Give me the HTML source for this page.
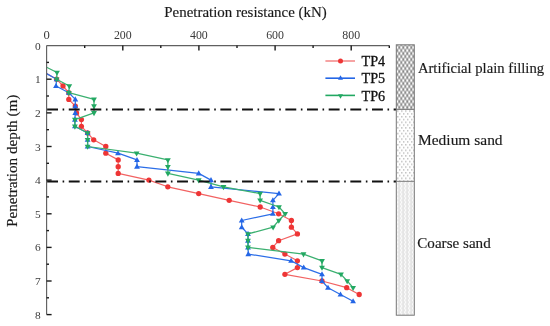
<!DOCTYPE html>
<html><head><meta charset="utf-8"><title>Penetration resistance</title>
<style>html,body{margin:0;padding:0;background:#fff;}svg{display:block;}</style></head>
<body><svg width="550" height="326" viewBox="0 0 550 326">
<defs>
<pattern id="hatch" patternUnits="userSpaceOnUse" width="4" height="6" x="397.3" y="44.5">
<rect width="4" height="6" fill="#fff"/>
<path d="M0,0 L4,6 M4,0 L0,6" stroke="#555" stroke-width="0.8"/>
</pattern>
<pattern id="dots1" patternUnits="userSpaceOnUse" width="4" height="5.6" x="396.3" y="109.4">
<rect width="4" height="5.6" fill="#fff"/>
<rect x="1" y="1.2" width="1.1" height="1.1" fill="#888"/>
<rect x="3" y="4" width="1.1" height="1.1" fill="#888"/>
</pattern>
<pattern id="dots2" patternUnits="userSpaceOnUse" width="4" height="4" x="397.2" y="181.3">
<rect width="4" height="4" fill="#fff"/>
<rect x="1.5" y="0.5" width="1" height="1" fill="#9a9a9a"/>
<rect x="3.5" y="0.5" width="0.5" height="1" fill="#aaa"/>
<rect x="1.5" y="2.5" width="1" height="1" fill="#9a9a9a"/>
<rect x="0" y="2.5" width="0.6" height="1" fill="#bbb"/>
</pattern>
</defs>
<rect width="550" height="326" fill="#fff"/>
<polyline points="46.6,73.6 56.6,79.2 63.0,86.0 68.8,92.7 68.8,99.4 75.3,106.1 76.5,112.9 81.4,119.6 81.4,126.3 87.6,133.0 93.7,139.8 105.8,146.5 105.8,153.2 118.2,159.9 118.2,166.7 118.2,173.4 148.9,180.1 167.8,186.8 198.7,193.6 229.2,200.3 260.2,207.0 278.6,213.8 291.4,220.5 291.4,227.2 297.4,233.9 278.6,240.7 272.8,247.4 284.9,254.1 297.4,260.8 297.4,267.6 284.9,274.3 322.0,281.0 346.7,287.7 359.2,294.5" fill="none" stroke="#f26262" stroke-width="1.2" stroke-linejoin="round"/>
<circle cx="56.6" cy="79.2" r="2.65" fill="#ee3535"/>
<circle cx="63.0" cy="86.0" r="2.65" fill="#ee3535"/>
<circle cx="68.8" cy="92.7" r="2.65" fill="#ee3535"/>
<circle cx="68.8" cy="99.4" r="2.65" fill="#ee3535"/>
<circle cx="75.3" cy="106.1" r="2.65" fill="#ee3535"/>
<circle cx="76.5" cy="112.9" r="2.65" fill="#ee3535"/>
<circle cx="81.4" cy="119.6" r="2.65" fill="#ee3535"/>
<circle cx="81.4" cy="126.3" r="2.65" fill="#ee3535"/>
<circle cx="87.6" cy="133.0" r="2.65" fill="#ee3535"/>
<circle cx="93.7" cy="139.8" r="2.65" fill="#ee3535"/>
<circle cx="105.8" cy="146.5" r="2.65" fill="#ee3535"/>
<circle cx="105.8" cy="153.2" r="2.65" fill="#ee3535"/>
<circle cx="118.2" cy="159.9" r="2.65" fill="#ee3535"/>
<circle cx="118.2" cy="166.7" r="2.65" fill="#ee3535"/>
<circle cx="118.2" cy="173.4" r="2.65" fill="#ee3535"/>
<circle cx="148.9" cy="180.1" r="2.65" fill="#ee3535"/>
<circle cx="167.8" cy="186.8" r="2.65" fill="#ee3535"/>
<circle cx="198.7" cy="193.6" r="2.65" fill="#ee3535"/>
<circle cx="229.2" cy="200.3" r="2.65" fill="#ee3535"/>
<circle cx="260.2" cy="207.0" r="2.65" fill="#ee3535"/>
<circle cx="278.6" cy="213.8" r="2.65" fill="#ee3535"/>
<circle cx="291.4" cy="220.5" r="2.65" fill="#ee3535"/>
<circle cx="291.4" cy="227.2" r="2.65" fill="#ee3535"/>
<circle cx="297.4" cy="233.9" r="2.65" fill="#ee3535"/>
<circle cx="278.6" cy="240.7" r="2.65" fill="#ee3535"/>
<circle cx="272.8" cy="247.4" r="2.65" fill="#ee3535"/>
<circle cx="284.9" cy="254.1" r="2.65" fill="#ee3535"/>
<circle cx="297.4" cy="260.8" r="2.65" fill="#ee3535"/>
<circle cx="297.4" cy="267.6" r="2.65" fill="#ee3535"/>
<circle cx="284.9" cy="274.3" r="2.65" fill="#ee3535"/>
<circle cx="322.0" cy="281.0" r="2.65" fill="#ee3535"/>
<circle cx="346.7" cy="287.7" r="2.65" fill="#ee3535"/>
<circle cx="359.2" cy="294.5" r="2.65" fill="#ee3535"/>
<polyline points="46.6,73.6 56.6,79.2 56.0,86.0 68.8,92.7 75.3,99.4 75.3,106.1 75.3,112.9 74.9,119.6 74.9,126.3 87.6,133.0 87.6,139.8 87.6,146.5 118.0,153.2 137.0,159.9 137.0,166.7 198.7,173.4 211.0,180.1 211.0,186.8 279.0,193.6 272.9,200.3 272.9,207.0 272.9,213.8 241.7,220.5 241.7,227.2 248.0,233.9 248.0,240.7 248.0,247.4 248.3,254.1 291.1,260.8 303.7,267.6 322.0,274.3 322.0,281.0 328.0,287.7 340.5,294.5 353.1,301.2" fill="none" stroke="#2c6ee8" stroke-width="1.25" stroke-linejoin="round"/>
<polygon points="53.70,81.27 59.50,81.27 56.60,76.17" fill="#2466e6"/>
<polygon points="53.10,88.00 58.90,88.00 56.00,82.90" fill="#2466e6"/>
<polygon points="65.90,94.72 71.70,94.72 68.80,89.62" fill="#2466e6"/>
<polygon points="72.40,101.45 78.20,101.45 75.30,96.35" fill="#2466e6"/>
<polygon points="72.40,108.17 78.20,108.17 75.30,103.07" fill="#2466e6"/>
<polygon points="72.40,114.90 78.20,114.90 75.30,109.80" fill="#2466e6"/>
<polygon points="72.00,121.63 77.80,121.63 74.90,116.53" fill="#2466e6"/>
<polygon points="72.00,128.35 77.80,128.35 74.90,123.25" fill="#2466e6"/>
<polygon points="84.70,135.08 90.50,135.08 87.60,129.98" fill="#2466e6"/>
<polygon points="84.70,141.80 90.50,141.80 87.60,136.70" fill="#2466e6"/>
<polygon points="84.70,148.53 90.50,148.53 87.60,143.43" fill="#2466e6"/>
<polygon points="115.10,155.26 120.90,155.26 118.00,150.16" fill="#2466e6"/>
<polygon points="134.10,161.98 139.90,161.98 137.00,156.88" fill="#2466e6"/>
<polygon points="134.10,168.71 139.90,168.71 137.00,163.61" fill="#2466e6"/>
<polygon points="195.80,175.43 201.60,175.43 198.70,170.33" fill="#2466e6"/>
<polygon points="208.10,182.16 213.90,182.16 211.00,177.06" fill="#2466e6"/>
<polygon points="208.10,188.89 213.90,188.89 211.00,183.79" fill="#2466e6"/>
<polygon points="276.10,195.61 281.90,195.61 279.00,190.51" fill="#2466e6"/>
<polygon points="270.00,202.34 275.80,202.34 272.90,197.24" fill="#2466e6"/>
<polygon points="270.00,209.06 275.80,209.06 272.90,203.96" fill="#2466e6"/>
<polygon points="270.00,215.79 275.80,215.79 272.90,210.69" fill="#2466e6"/>
<polygon points="238.80,222.52 244.60,222.52 241.70,217.42" fill="#2466e6"/>
<polygon points="238.80,229.24 244.60,229.24 241.70,224.14" fill="#2466e6"/>
<polygon points="245.10,235.97 250.90,235.97 248.00,230.87" fill="#2466e6"/>
<polygon points="245.10,242.69 250.90,242.69 248.00,237.59" fill="#2466e6"/>
<polygon points="245.10,249.42 250.90,249.42 248.00,244.32" fill="#2466e6"/>
<polygon points="245.40,256.15 251.20,256.15 248.30,251.05" fill="#2466e6"/>
<polygon points="288.20,262.87 294.00,262.87 291.10,257.77" fill="#2466e6"/>
<polygon points="300.80,269.60 306.60,269.60 303.70,264.50" fill="#2466e6"/>
<polygon points="319.10,276.32 324.90,276.32 322.00,271.22" fill="#2466e6"/>
<polygon points="319.10,283.05 324.90,283.05 322.00,277.95" fill="#2466e6"/>
<polygon points="325.10,289.78 330.90,289.78 328.00,284.68" fill="#2466e6"/>
<polygon points="337.60,296.50 343.40,296.50 340.50,291.40" fill="#2466e6"/>
<polygon points="350.20,303.23 356.00,303.23 353.10,298.13" fill="#2466e6"/>
<polyline points="46.6,67.2 57.0,72.5 56.6,79.2 69.3,86.0 68.8,92.7 94.0,99.4 94.0,106.1 94.0,112.9 74.9,119.6 74.9,126.3 87.6,133.0 87.6,139.8 87.6,146.5 136.6,153.2 167.9,159.9 167.9,166.7 167.9,173.4 198.7,180.1 223.5,186.8 260.1,193.6 260.1,200.3 279.0,207.0 285.2,213.8 278.8,220.5 273.1,227.2 248.0,233.9 248.0,240.7 248.0,247.4 303.5,254.1 322.0,260.8 322.0,267.6 341.0,274.3 347.2,281.0 353.1,287.7" fill="none" stroke="#3bb070" stroke-width="1.25" stroke-linejoin="round"/>
<polygon points="54.10,70.72 59.90,70.72 57.00,75.82" fill="#22a862"/>
<polygon points="53.70,77.45 59.50,77.45 56.60,82.55" fill="#22a862"/>
<polygon points="66.40,84.17 72.20,84.17 69.30,89.27" fill="#22a862"/>
<polygon points="65.90,90.90 71.70,90.90 68.80,96.00" fill="#22a862"/>
<polygon points="91.10,97.62 96.90,97.62 94.00,102.72" fill="#22a862"/>
<polygon points="91.10,104.35 96.90,104.35 94.00,109.45" fill="#22a862"/>
<polygon points="91.10,111.08 96.90,111.08 94.00,116.18" fill="#22a862"/>
<polygon points="72.00,117.80 77.80,117.80 74.90,122.90" fill="#22a862"/>
<polygon points="72.00,124.53 77.80,124.53 74.90,129.63" fill="#22a862"/>
<polygon points="84.70,131.25 90.50,131.25 87.60,136.35" fill="#22a862"/>
<polygon points="84.70,137.98 90.50,137.98 87.60,143.08" fill="#22a862"/>
<polygon points="84.70,144.71 90.50,144.71 87.60,149.81" fill="#22a862"/>
<polygon points="133.70,151.43 139.50,151.43 136.60,156.53" fill="#22a862"/>
<polygon points="165.00,158.16 170.80,158.16 167.90,163.26" fill="#22a862"/>
<polygon points="165.00,164.88 170.80,164.88 167.90,169.98" fill="#22a862"/>
<polygon points="165.00,171.61 170.80,171.61 167.90,176.71" fill="#22a862"/>
<polygon points="195.80,178.34 201.60,178.34 198.70,183.44" fill="#22a862"/>
<polygon points="220.60,185.06 226.40,185.06 223.50,190.16" fill="#22a862"/>
<polygon points="257.20,191.79 263.00,191.79 260.10,196.89" fill="#22a862"/>
<polygon points="257.20,198.51 263.00,198.51 260.10,203.61" fill="#22a862"/>
<polygon points="276.10,205.24 281.90,205.24 279.00,210.34" fill="#22a862"/>
<polygon points="282.30,211.97 288.10,211.97 285.20,217.06" fill="#22a862"/>
<polygon points="275.90,218.69 281.70,218.69 278.80,223.79" fill="#22a862"/>
<polygon points="270.20,225.42 276.00,225.42 273.10,230.52" fill="#22a862"/>
<polygon points="245.10,232.14 250.90,232.14 248.00,237.24" fill="#22a862"/>
<polygon points="245.10,238.87 250.90,238.87 248.00,243.97" fill="#22a862"/>
<polygon points="245.10,245.60 250.90,245.60 248.00,250.70" fill="#22a862"/>
<polygon points="300.60,252.32 306.40,252.32 303.50,257.42" fill="#22a862"/>
<polygon points="319.10,259.05 324.90,259.05 322.00,264.15" fill="#22a862"/>
<polygon points="319.10,265.77 324.90,265.77 322.00,270.87" fill="#22a862"/>
<polygon points="338.10,272.50 343.90,272.50 341.00,277.60" fill="#22a862"/>
<polygon points="344.30,279.23 350.10,279.23 347.20,284.33" fill="#22a862"/>
<polygon points="350.20,285.95 356.00,285.95 353.10,291.05" fill="#22a862"/>
<line x1="47.1" y1="109.6" x2="396.3" y2="109.6" stroke="#111" stroke-width="2" stroke-dasharray="10.9 4.6 1.6 4.56"/>
<line x1="47.1" y1="181.4" x2="396.3" y2="181.4" stroke="#111" stroke-width="2" stroke-dasharray="10.9 4.6 1.6 4.56"/>
<g stroke="#606060" stroke-width="1.15" fill="none">
<line x1="46.6" y1="45.6" x2="389.3" y2="45.6"/>
<line x1="46.6" y1="45.6" x2="46.6" y2="314.6"/>
</g>
<g stroke="#1a1a1a" stroke-width="1.4" fill="none">
<line x1="84.7" y1="45.6" x2="84.7" y2="48.0"/>
<line x1="122.8" y1="45.6" x2="122.8" y2="50.6"/>
<line x1="160.8" y1="45.6" x2="160.8" y2="48.0"/>
<line x1="198.9" y1="45.6" x2="198.9" y2="50.6"/>
<line x1="237.0" y1="45.6" x2="237.0" y2="48.0"/>
<line x1="275.1" y1="45.6" x2="275.1" y2="50.6"/>
<line x1="313.1" y1="45.6" x2="313.1" y2="48.0"/>
<line x1="351.2" y1="45.6" x2="351.2" y2="50.6"/>
<line x1="389.3" y1="45.6" x2="389.3" y2="48.0"/>
<line x1="46.6" y1="62.4" x2="49.0" y2="62.4"/>
<line x1="46.6" y1="79.2" x2="51.6" y2="79.2"/>
<line x1="46.6" y1="96.0" x2="49.0" y2="96.0"/>
<line x1="46.6" y1="112.9" x2="51.6" y2="112.9"/>
<line x1="46.6" y1="129.7" x2="49.0" y2="129.7"/>
<line x1="46.6" y1="146.5" x2="51.6" y2="146.5"/>
<line x1="46.6" y1="163.3" x2="49.0" y2="163.3"/>
<line x1="46.6" y1="180.1" x2="51.6" y2="180.1"/>
<line x1="46.6" y1="196.9" x2="49.0" y2="196.9"/>
<line x1="46.6" y1="213.8" x2="51.6" y2="213.8"/>
<line x1="46.6" y1="230.6" x2="49.0" y2="230.6"/>
<line x1="46.6" y1="247.4" x2="51.6" y2="247.4"/>
<line x1="46.6" y1="264.2" x2="49.0" y2="264.2"/>
<line x1="46.6" y1="281.0" x2="51.6" y2="281.0"/>
<line x1="46.6" y1="297.8" x2="49.0" y2="297.8"/>
<line x1="46.6" y1="314.6" x2="51.6" y2="314.6"/>
</g>
<g font-family="'Liberation Serif', serif" font-size="12.6" fill="#3a3a3a">
<text x="46.6" y="39" text-anchor="middle">0</text>
<text x="122.8" y="39" text-anchor="middle" textLength="17.8" lengthAdjust="spacingAndGlyphs">200</text>
<text x="198.9" y="39" text-anchor="middle" textLength="17.8" lengthAdjust="spacingAndGlyphs">400</text>
<text x="275.1" y="39" text-anchor="middle" textLength="17.8" lengthAdjust="spacingAndGlyphs">600</text>
<text x="351.2" y="39" text-anchor="middle" textLength="17.8" lengthAdjust="spacingAndGlyphs">800</text>
</g>
<g font-family="'Liberation Serif', serif" font-size="11.4" fill="#3a3a3a">
<text x="40.8" y="49.6" text-anchor="end">0</text>
<text x="40.8" y="83.2" text-anchor="end">1</text>
<text x="40.8" y="116.9" text-anchor="end">2</text>
<text x="40.8" y="150.5" text-anchor="end">3</text>
<text x="40.8" y="184.1" text-anchor="end">4</text>
<text x="40.8" y="217.8" text-anchor="end">5</text>
<text x="40.8" y="251.4" text-anchor="end">6</text>
<text x="40.8" y="285.0" text-anchor="end">7</text>
<text x="40.8" y="318.6" text-anchor="end">8</text>
</g>
<text x="245.5" y="16.7" font-family="'Liberation Serif', serif" font-size="14" fill="#1a1a1a" stroke="#1a1a1a" stroke-width="0.15" text-anchor="middle" textLength="162.5" lengthAdjust="spacingAndGlyphs">Penetration resistance (kN)</text>
<text transform="translate(16.5,160.8) rotate(-90)" x="0" y="0" font-family="'Liberation Serif', serif" font-size="14" fill="#1a1a1a" stroke="#1a1a1a" stroke-width="0.15" text-anchor="middle" textLength="132.4" lengthAdjust="spacingAndGlyphs">Penetration depth (m)</text>
<line x1="325.4" y1="61.0" x2="355" y2="61.0" stroke="#f48c8c" stroke-width="1.6"/>
<circle cx="340.5" cy="61.0" r="2.5" fill="#ee3535"/>
<text x="361.5" y="66.2" font-family="'Liberation Serif', serif" font-size="14" fill="#111" stroke="#111" stroke-width="0.3" textLength="23.6" lengthAdjust="spacingAndGlyphs">TP4</text>
<line x1="325.4" y1="78.2" x2="355" y2="78.2" stroke="#2466e6" stroke-width="1.6"/>
<polygon points="338.00,79.70 343.00,79.70 340.50,75.20" fill="#2466e6"/>
<text x="361.5" y="83.4" font-family="'Liberation Serif', serif" font-size="14" fill="#111" stroke="#111" stroke-width="0.3" textLength="23.6" lengthAdjust="spacingAndGlyphs">TP5</text>
<line x1="325.4" y1="95.4" x2="355" y2="95.4" stroke="#22a862" stroke-width="1.6"/>
<polygon points="338.00,94.33 343.00,94.33 340.50,98.83" fill="#22a862"/>
<text x="361.5" y="100.6" font-family="'Liberation Serif', serif" font-size="14" fill="#111" stroke="#111" stroke-width="0.3" textLength="23.6" lengthAdjust="spacingAndGlyphs">TP6</text>
<rect x="396.3" y="44.8" width="18.0" height="64.6" fill="url(#hatch)"/>
<rect x="396.3" y="109.4" width="18.0" height="71.9" fill="url(#dots1)"/>
<rect x="396.3" y="181.3" width="18.0" height="133.9" fill="url(#dots2)"/>
<rect x="396.3" y="44.8" width="18.0" height="270.4" fill="none" stroke="#777" stroke-width="1"/>
<line x1="396.3" y1="109.4" x2="414.3" y2="109.4" stroke="#777" stroke-width="1"/>
<line x1="396.3" y1="181.3" x2="414.3" y2="181.3" stroke="#777" stroke-width="1"/>
<g font-family="'Liberation Serif', serif" font-size="14" fill="#1a1a1a" stroke="#1a1a1a" stroke-width="0.15">
<text x="417.9" y="73.1" textLength="126.2" lengthAdjust="spacingAndGlyphs">Artificial plain filling</text>
<text x="418" y="145.4" textLength="84.6" lengthAdjust="spacingAndGlyphs">Medium sand</text>
<text x="417.3" y="248.1" textLength="73.4" lengthAdjust="spacingAndGlyphs">Coarse sand</text>
</g>
</svg></body></html>
